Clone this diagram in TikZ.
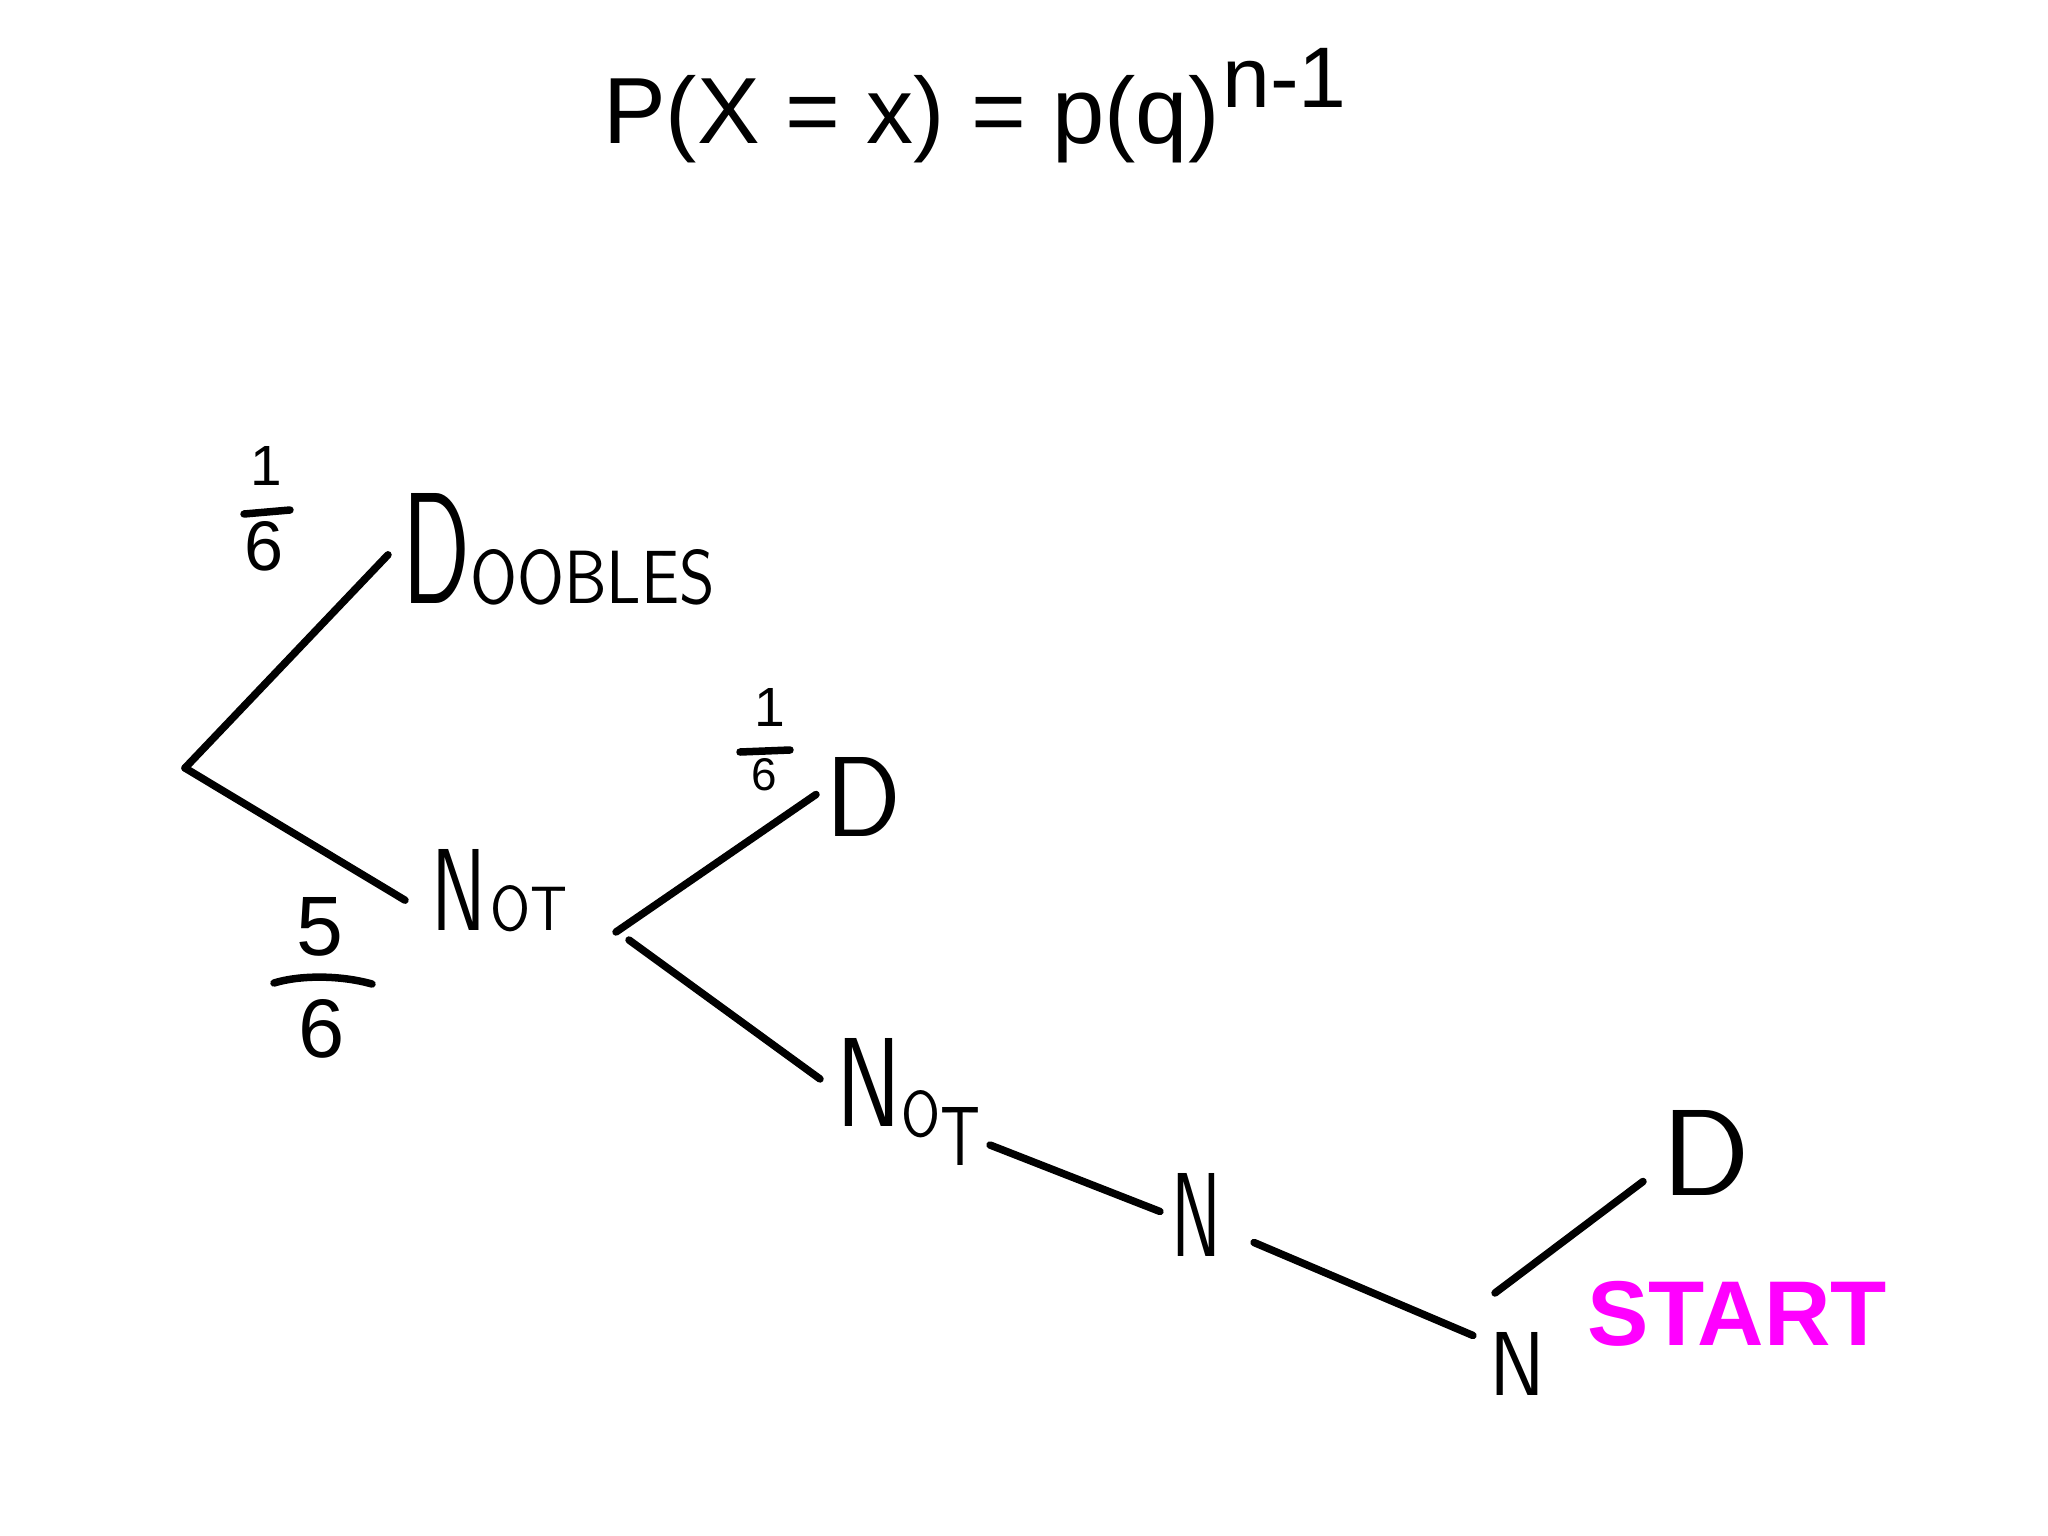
\documentclass[tikz,border=0pt]{standalone}
\usepackage{fontspec}
\setmainfont{Liberation Sans}
\usepackage{graphicx}
\usetikzlibrary{calc}
\definecolor{startmag}{HTML}{FF00FF}
\newcommand\hw[3]{\resizebox{#1}{#2}{\sffamily #3}}
\newcommand\dg[2]{\resizebox{!}{#1}{#2}}
\begin{document}
\begin{tikzpicture}[x=1pt,y=-1pt,
  branch/.style={line width=7.5pt,line cap=round,line join=round},
  lbl/.style={inner sep=0pt,outer sep=0pt,anchor=base west},
  digit/.style={inner sep=0pt,outer sep=0pt,anchor=center}]
\useasboundingbox[fill=white] (0,0) rectangle (2048,1536);

% formula
\node[lbl] (formula) at (603,144) {\fontsize{94}{94}\selectfont P(X = x) = p(q)\hskip3pt\raisebox{36pt}{\fontsize{86}{86}\selectfont n-1}};

% labels
\node[lbl] (dbl) at (402,603) {\hw{68pt}{110pt}{D}\hw{245pt}{54pt}{OOBLES}};
\node[lbl] (not1) at (431,930) {\hw{55pt}{81pt}{N}\hskip4pt\hw{77pt}{45pt}{OT}};
\node[lbl] (d2) at (825,836) {\hw{76pt}{79pt}{D}};
\node[lbl] (not2) at (836,1126) {\hw{65pt}{88pt}{N}\raisebox{-10pt}{\hw{39pt}{46pt}{O}}\raisebox{-39pt}{\hw{40pt}{58pt}{T}}};
\node[lbl] (n3) at (1171,1256) {\hw{50pt}{83pt}{N}};
\node[lbl] (n4) at (1489,1395) {\hw{56pt}{63pt}{N}};
\node[lbl] (d4) at (1661,1195) {\hw{89pt}{85pt}{D}};
\node[lbl,text=startmag] (start) at (1587,1345) {\fontsize{92}{92}\selectfont\bfseries START};

% fractions
\node[digit] (fa1) at (266,466) {\dg{39pt}{1}};
\node[digit] (fa6) at (264,546) {\dg{49pt}{6}};
\draw[branch] (244,514) -- (290,510);
\node[digit] (fb5) at (320,927) {\dg{58pt}{5}};
\node[digit] (fb6) at (322,1029) {\dg{58pt}{6}};
\draw[branch] (274,983) .. controls (300,975) and (340,975) .. (372,984);
\node[digit] (fc1) at (770,707) {\dg{38pt}{1}};
\node[digit] (fc6) at (764,775) {\dg{32pt}{6}};
\draw[branch] (740,752) -- (790,750);

% junctions
\coordinate (root) at (185,768);
\coordinate (s1a) at (616,932);
\coordinate (s1b) at (629,940);

% connectors
\draw[branch] (root) -- ($(dbl.west)+(-14,6)$);
\draw[branch] (root) -- ($(not1.west)+(-26,10)$);
\draw[branch] (s1a) -- ($(d2.west)+(-9,-2)$);
\draw[branch] (s1b) -- ($(not2.north west)+(-16,41)$);
\draw[branch] ($(not2.south east)+(10,-20)$) -- ($(n3.west)+(-11,-3)$);
\draw[branch] ($(n3.east)+(33,28)$) -- ($(n4.west)+(-16,-28)$);
\draw[branch] ($(n4.north west)+(6,-39)$) -- ($(d4.west)+(-18,29)$);
\end{tikzpicture}
\end{document}
